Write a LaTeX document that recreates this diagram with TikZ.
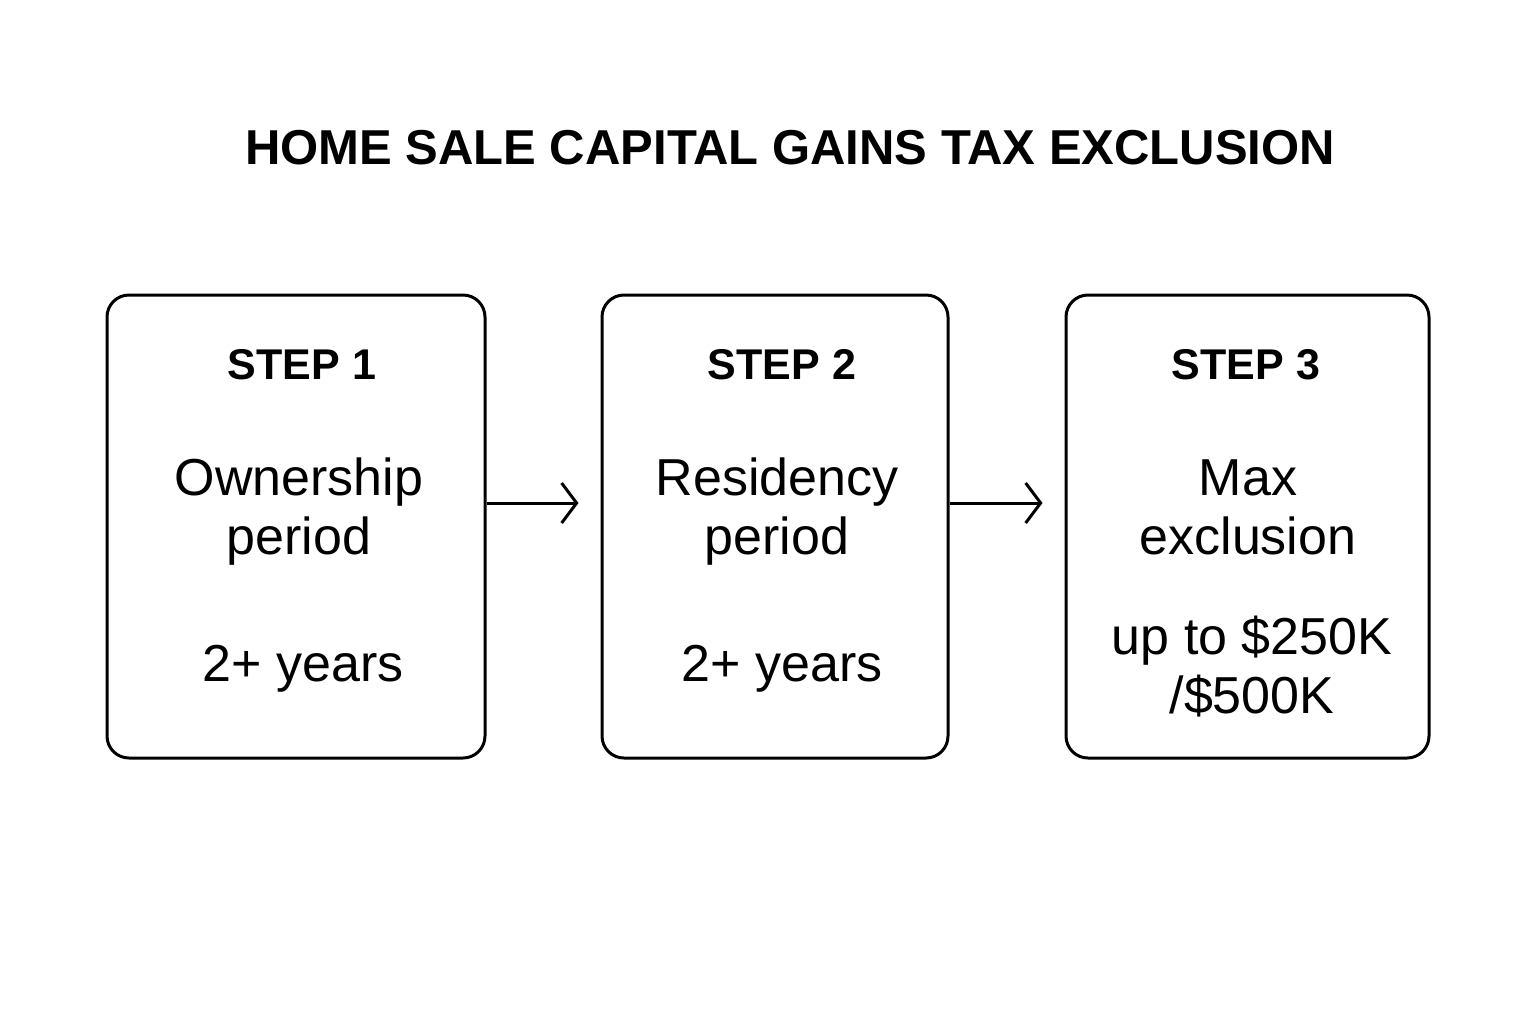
\documentclass[tikz,border=0pt]{standalone}
\usepackage{fontspec}
\setmainfont{Liberation Sans}
\usetikzlibrary{arrows.meta}
\begin{document}
\begin{tikzpicture}[x=0.5pt,y=-0.5pt,
  stepbox/.style={draw=black, line width=1.5pt, rounded corners=11pt, inner sep=0pt},
  steplabel/.style={font=\fontsize{21.5}{26}\selectfont\bfseries, anchor=center},
  bodytext/.style={font=\fontsize{26}{29.5}\selectfont, anchor=center, align=center},
  flow/.style={draw=black, line width=1.5pt, -{Straight Barb[length=7.5pt,width=20pt,line width=1.5pt]}}
]
\useasboundingbox[fill=white] (0,0) rectangle (1536,1024);
\node[font=\fontsize{24.5}{30}\selectfont\bfseries] (title) at (790,148) {HOME SALE CAPITAL GAINS TAX EXCLUSION};

\node[stepbox, minimum width=189pt, minimum height=231.5pt] (b1) at (296,526.5) {};
\node[stepbox, minimum width=173pt, minimum height=231.5pt] (b2) at (775,526.5) {};
\node[stepbox, minimum width=181.5pt, minimum height=231.5pt] (b3) at (1247.5,526.5) {};

\node[steplabel] (s1) at (302,365) {STEP 1};
\node[bodytext] (t1) at (299,512) {Ownership\\period};
\node[bodytext] (y1) at (303,669) {2+ years};

\node[steplabel] (s2) at (782,365) {STEP 2};
\node[bodytext] (t2) at (777,512) {Residency\\period};
\node[bodytext] (y2) at (782,669) {2+ years};

\node[steplabel] (s3) at (1246,365) {STEP 3};
\node[bodytext] (t3) at (1248,507) {Max\\exclusion};
\node[bodytext] (y3) at (1252,667) {up to \$250K\\/\$500K};

\draw[flow, shorten >=11pt] (b1.east |- 0,503) -- (b2.west |- 0,503);
\draw[flow, shorten >=11pt] (b2.east |- 0,503) -- (b3.west |- 0,503);
\end{tikzpicture}
\end{document}
